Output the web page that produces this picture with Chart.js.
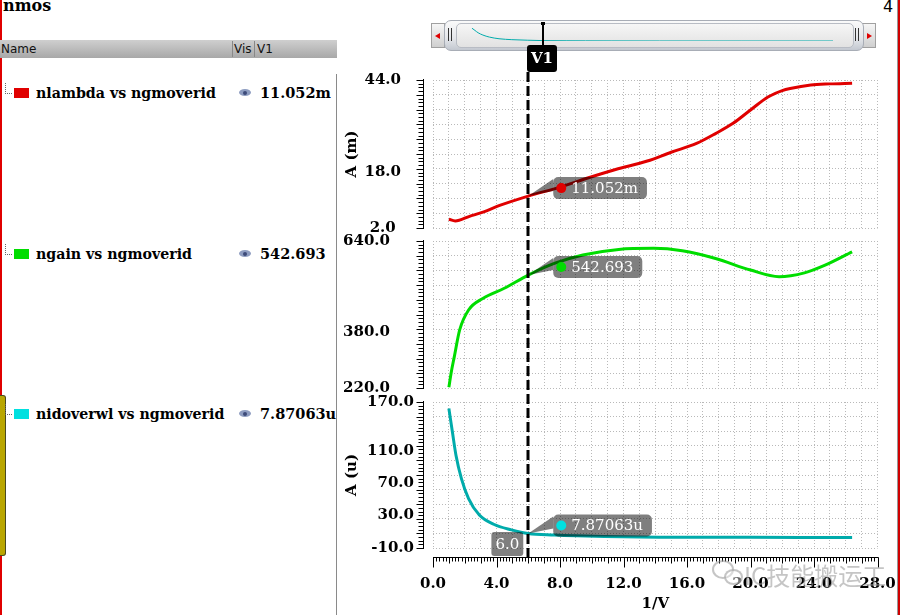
<!DOCTYPE html>
<html>
<head>
<meta charset="utf-8">
<script src="https://cdn.jsdelivr.net/npm/chart.js@4.4.0/dist/chart.umd.min.js"></script>
<style>
  html, body { margin: 0; padding: 0; background: #fff; }
  #page { position: relative; width: 900px; height: 615px; overflow: hidden; font-family: "DejaVu Serif", serif; }
  .abs { position: absolute; }
  canvas.full { position: absolute; left: 0; top: 0; }
  .hdr { left: 0; top: 40px; width: 337px; height: 18px; background: linear-gradient(#cfcfcf, #a8a8a8);
         font: 12px "DejaVu Sans", sans-serif; line-height: 18px; color: #111; }
  .hdr span { position: absolute; top: 0; }
  .hdr i { position: absolute; top: 1px; width: 1px; height: 16px; background: #888; }
  .row { left: 0; width: 336px; height: 20px; }
  .tree { position: absolute; left: 5px; top: 0; width: 6px; height: 10px; border-left: 1px dotted #666; border-bottom: 1px dotted #666; }
  .sw { position: absolute; left: 14px; top: 5px; width: 15px; height: 10px; }
  .nm { position: absolute; left: 36px; top: 0; font-weight: bold; font-size: 14.2px; line-height: 20px; white-space: nowrap; }
  .eye { position: absolute; left: 239px; top: 6px; width: 12px; height: 7px; border-radius: 50%; background: #8d9cc0; }
  .eye b { position: absolute; left: 4px; top: 1.5px; width: 4px; height: 4px; border-radius: 50%; background: #3c4a78; }
  .val { position: absolute; left: 260px; top: 0; font-weight: bold; font-size: 14.5px; line-height: 20px; white-space: nowrap; }
  .btn { top: 23px; width: 12px; height: 23px; background: linear-gradient(#f6f6f6, #cfcfcf); border: 1px solid #a0a0a0; }
  .btn i { position: absolute; top: 9px; width: 0; height: 0; border-top: 3px solid transparent; border-bottom: 3px solid transparent; }
  .bar { left: 444px; top: 20px; width: 418px; height: 29px; border-radius: 7px; border: 1px solid #a8adb6;
         background: linear-gradient(#fafafa, #e4e6ea 60%, #c3c8d0); }
  .trough { left: 456px; top: 23px; width: 396px; height: 23px; border-radius: 5px; border: 1px solid #b8bcc4;
            background: linear-gradient(#f6f6f6, #e2e2e2); }
  .grip { top: 28px; width: 1px; height: 13px; border-left: 1px solid #333; border-right: 1px solid #333; padding-left: 1px; }
</style>
</head>
<body>
<div id="page">
  <div class="abs" style="left:0;top:0;width:2px;height:615px;background:#e00000"></div>
  <div class="abs" style="left:897px;top:0;width:1px;height:615px;background:#999"></div>
  <div class="abs" style="left:898px;top:0;width:2px;height:615px;background:#d00000"></div>
  <div class="abs" style="left:3px;top:-4px;font-weight:bold;font-size:16px;">nmos</div>
  <div class="abs" style="left:883px;top:-3px;font:16px 'DejaVu Sans',sans-serif;">4</div>
  <div class="abs hdr"><span style="left:1px">Name</span><i style="left:232px"></i><span style="left:234px">Vis</span><i style="left:254px"></i><span style="left:257px">V1</span></div>
  <div class="abs" style="left:336px;top:74px;width:1px;height:541px;background:#8a8a8a"></div>
  <div class="abs" style="left:0;top:395px;width:5px;height:159px;background:#b9a600;border:1px solid #4a4a20;border-left:none;border-radius:0 3px 3px 0"></div>
  <div id="legend"></div>

  <div class="abs btn" style="left:431px"><i style="left:3px;border-right:5px solid #e00000"></i></div>
  <div class="abs btn" style="left:862px"><i style="left:4px;border-left:5px solid #e00000"></i></div>
  <div class="abs bar"></div>
  <div class="abs trough"></div>
  <div class="abs grip" style="left:448px"></div>
  <div class="abs grip" style="left:855px"></div>
  <canvas id="thumb" class="abs" width="396" height="25" style="left:456px;top:22px"></canvas>

  <canvas id="cTop" class="full" width="900" height="615"></canvas>
  <canvas id="cMid" class="full" width="900" height="615"></canvas>
  <canvas id="cBot" class="full" width="900" height="615"></canvas>

  <div class="abs" style="left:712px;top:560px;width:18px;height:15px;border:2px solid rgba(150,150,150,0.55);border-radius:50%"></div>
  <div class="abs" style="left:724px;top:569px;width:15px;height:12px;border:2px solid rgba(150,150,150,0.55);border-radius:50%;background:rgba(255,255,255,0.4)"></div>
  <div class="abs" style="left:744px;top:557px;font:24px 'Noto Sans CJK SC',sans-serif;color:rgba(150,150,150,0.55);">IC技能搬运工</div>
</div>
<script>
// cursor
const cursorName = 'V1';
const cursorX = 6.0;

// series names, colours and cursor read-outs
const seriesNames = ['nlambda vs ngmoverid', 'ngain vs ngmoverid', 'nidoverwl vs ngmoverid'];
const swatchColors = ['#e00000', '#00dd00', '#00e0e0'];
const lineColors = ['#e00000', '#00dd00', '#00abab'];
const cursorValues = [11.052, 542.693, 7.87063];
const cursorLabels = ['11.052m', '542.693', '7.87063u'];

// nlambda (m) vs ngmoverid
const lambdaX = [1.0, 1.4, 2.3, 3.2, 4.2, 6.0, 8.0, 9.9, 11.5, 13.5, 15.0, 16.6, 17.8, 18.9, 20.0, 21.1, 22.0, 22.5, 23.8, 25.0, 26.4];
const lambdaY = [4.5, 4.0, 5.3, 6.6, 8.4, 11.05, 13.6, 16.4, 18.6, 21.0, 23.5, 26.0, 28.8, 31.7, 35.5, 39.2, 41.0, 41.6, 42.6, 42.9, 43.1];

// ngain vs ngmoverid
const gainX = [1.0, 1.15, 1.34, 1.68, 2.24, 3.14, 4.49, 6.0, 7.64, 9.44, 11.7, 13.9, 15.7, 17.8, 20.0, 21.8, 23.4, 24.7, 26.4];
const gainY = [222, 265, 309, 386, 443, 476, 505, 542.7, 576, 600, 616, 619, 612, 590, 557, 538, 549, 571, 609];

// nidoverwl (u) vs ngmoverid
const idwX = [1.0, 1.23, 1.45, 1.79, 2.24, 2.92, 3.82, 4.94, 6.0, 7.64, 9.0, 10.8, 14.2, 20.0, 26.4];
const idwY = [162, 132, 104, 75.5, 51, 30.7, 19.3, 12.4, 7.87, 6.0, 5.0, 4.2, 3.3, 3.1, 3.0];

// axes
const xMin = 0, xMax = 28;
const xTickLabels = [0, 4, 8, 12, 16, 20, 24, 28];
const topRange = [2, 44], topTicks = [2, 18, 44];
const midRange = [220, 640], midTicks = [220, 380, 640];
const botRange = [-10, 170], botTicks = [-10, 30, 70, 110, 170];
const yTitles = ['A (m)', '', 'A (u)'];
const xTitle = '1/V';

// legend panel
const rowTops = [83, 244, 404];
const legend = document.getElementById('legend');
seriesNames.forEach((n, i) => {
  const r = document.createElement('div');
  r.className = 'abs row';
  r.style.top = rowTops[i] + 'px';
  r.innerHTML = '<div class="tree"></div><div class="sw" style="background:' + swatchColors[i] + '"></div>' +
    '<div class="nm">' + n + '</div><div class="eye"><b></b></div><div class="val">' + cursorLabels[i] + '</div>';
  legend.appendChild(r);
});

Chart.defaults.font.family = '"DejaVu Serif", serif';
Chart.defaults.color = '#000';

const xGrid = [];
for (let v = xMin; v <= xMax; v++) xGrid.push(v);

function near(v, arr) { return arr.some(a => Math.abs(a - v) < 1e-6); }

function yGridFor(range) {
  const g = [];
  for (let i = 0; i <= 10; i++) g.push(range[0] + (range[1] - range[0]) * i / 10);
  return g;
}

const bold15 = { size: 15, weight: 'bold' };

// ruler marks outside the plot, like the waveform viewer
const rulerPlugin = {
  id: 'ruler',
  afterDraw(chart, args, o) {
    const { ctx, chartArea: a, scales: { x, y } } = chart;
    ctx.save();
    ctx.strokeStyle = '#000';
    ctx.lineWidth = 1;
    ctx.beginPath();
    const rx = Math.round(a.left - 10) + 0.5;
    ctx.moveTo(rx, a.top - 1); ctx.lineTo(rx, a.bottom + 1);
    const ystep = (y.max - y.min) / 40;
    for (let i = 0; i <= 40; i++) {
      const py = Math.round(y.getPixelForValue(y.min + i * ystep)) + 0.5;
      const len = i % 4 === 0 ? 7 : 5;
      ctx.moveTo(rx - len, py); ctx.lineTo(rx, py);
    }
    if (o.xRuler) {
      const ry = Math.round(a.bottom + 9) + 0.5;
      ctx.moveTo(a.left, ry); ctx.lineTo(a.right + 1, ry);
      for (let i = 0; i <= (x.max - x.min) * 5; i++) {
        const v = x.min + i / 5;
        const px = Math.round(x.getPixelForValue(v)) + 0.5;
        const len = i % 20 === 0 ? 10 : (i % 5 === 0 ? 6 : 4);
        ctx.moveTo(px, ry); ctx.lineTo(px, ry + len);
      }
    }
    ctx.stroke();
    ctx.restore();
  }
};

// cursor read-out balloon on each trace
const cursorTipPlugin = {
  id: 'cursorTip',
  afterDatasetsDraw(chart, args, o) {
    const { ctx, chartArea: a, scales: { x, y } } = chart;
    const px = x.getPixelForValue(cursorX), py = y.getPixelForValue(o.value);
    ctx.save();
    ctx.font = '15px "DejaVu Serif"';
    const tw = ctx.measureText(o.label).width;
    const bx = px + 25, by = py - 19, bw = tw + 27, bh = 22;
    ctx.fillStyle = 'rgba(0,0,0,0.5)';
    ctx.beginPath();
    ctx.moveTo(px, py); ctx.lineTo(bx, by + 2); ctx.lineTo(bx, by + 14); ctx.closePath();
    ctx.fill();
    ctx.beginPath(); ctx.roundRect(bx, by, bw, bh, 5); ctx.fill();
    ctx.fillStyle = o.dot;
    ctx.beginPath(); ctx.arc(px + 33, py - 8, 5, 0, Math.PI * 2); ctx.fill();
    ctx.fillStyle = '#fff';
    ctx.textBaseline = 'middle';
    ctx.fillText(o.label, px + 43, py - 7);
    if (o.xLabel) {
      const t = cursorX.toFixed(1);
      const w = ctx.measureText(t).width + 8;
      ctx.fillStyle = 'rgba(0,0,0,0.5)';
      ctx.beginPath(); ctx.roundRect(px - 5 - w, a.bottom - 16, w, 24, 3); ctx.fill();
      ctx.fillStyle = '#fff';
      ctx.fillText(t, px - 1 - w, a.bottom - 3);
    }
    ctx.restore();
  }
};

// dashed vertical cursor with its name tag
const cursorLinePlugin = {
  id: 'cursorLine',
  afterDraw(chart, args, o) {
    if (!o.on) return;
    const { ctx, chartArea: a, scales: { x } } = chart;
    const px = Math.round(x.getPixelForValue(cursorX));
    ctx.save();
    ctx.strokeStyle = '#000';
    ctx.lineWidth = 3;
    ctx.setLineDash([10, 4]);
    ctx.beginPath(); ctx.moveTo(px, 72); ctx.lineTo(px, a.bottom + 9); ctx.stroke();
    ctx.setLineDash([]);
    ctx.fillStyle = '#000';
    ctx.beginPath(); ctx.roundRect(px - 1, 45, 30, 27, 3); ctx.fill();
    ctx.fillStyle = '#fff';
    ctx.font = 'bold 15px "DejaVu Serif"';
    ctx.textAlign = 'center'; ctx.textBaseline = 'middle';
    ctx.fillText(cursorName, px + 14, 59);
    ctx.restore();
  }
};

function gridColor(vals) {
  return c => (c.tick && near(c.tick.value, vals)) ? '#b9b9b9' : 'rgba(0,0,0,0)';
}

function makePanel(id, p) {
  const yGrid = yGridFor(p.range);
  const yAll = yGrid.concat(p.ticks.filter(v => !near(v, yGrid))).sort((a, b) => a - b);
  return new Chart(document.getElementById(id), {
    type: 'line',
    data: {
      datasets: [{
        data: p.xs.map((v, i) => ({ x: v, y: p.ys[i] })),
        borderColor: p.color,
        borderWidth: 3,
        pointRadius: 0,
        cubicInterpolationMode: 'monotone',
        fill: false
      }]
    },
    options: {
      responsive: false,
      animation: false,
      events: [],
      layout: { padding: p.padding },
      plugins: {
        legend: { display: false },
        tooltip: { enabled: false },
        ruler: { xRuler: p.bottom },
        cursorTip: { value: p.cursorValue, label: p.cursorLabel, dot: p.dot, xLabel: p.bottom },
        cursorLine: { on: p.bottom }
      },
      scales: {
        x: {
          type: 'linear', min: xMin, max: xMax,
          afterBuildTicks: s => { s.ticks = xGrid.map(v => ({ value: v })); },
          afterFit: s => { s.height = p.bottom ? 67 : 0; s.paddingLeft = 0; s.paddingRight = 0; },
          grid: { color: gridColor(xGrid), drawTicks: false },
          border: { display: false, dash: [1, 2] },
          ticks: {
            display: p.bottom, autoSkip: false, maxRotation: 0, padding: 27, font: bold15,
            callback: v => near(v, xTickLabels) ? v.toFixed(1) : ''
          },
          title: { display: p.bottom, text: xTitle, font: bold15, padding: { top: 0, bottom: 2 } }
        },
        y: {
          type: 'linear', min: p.range[0], max: p.range[1],
          afterBuildTicks: s => { s.ticks = yAll.map(v => ({ value: v })); },
          afterFit: s => { s.width = 90; },
          grid: { color: gridColor(yGrid), drawTicks: false },
          border: { display: false, dash: [1, 2] },
          ticks: {
            autoSkip: false, padding: p.tickPad, crossAlign: p.cross, font: bold15,
            callback: v => near(v, p.ticks) ? v.toFixed(1) : ''
          },
          title: { display: !!p.title, text: p.title, font: bold15, padding: 0 }
        }
      }
    },
    plugins: [rulerPlugin, cursorTipPlugin, cursorLinePlugin]
  });
}

makePanel('cTop', {
  xs: lambdaX, ys: lambdaY, color: lineColors[0], dot: swatchColors[0],
  range: topRange, ticks: topTicks, title: yTitles[0], tickPad: 32, cross: 'center',
  cursorValue: cursorValues[0], cursorLabel: cursorLabels[0], bottom: false,
  padding: { left: 343, right: 22.5, top: 80, bottom: 387 }
});
makePanel('cMid', {
  xs: gainX, ys: gainY, color: lineColors[1], dot: swatchColors[1],
  range: midRange, ticks: midTicks, title: yTitles[1], tickPad: 43, cross: 'near',
  cursorValue: cursorValues[1], cursorLabel: cursorLabels[1], bottom: false,
  padding: { left: 343, right: 22.5, top: 241, bottom: 227 }
});
makePanel('cBot', {
  xs: idwX, ys: idwY, color: lineColors[2], dot: swatchColors[2],
  range: botRange, ticks: botTicks, title: yTitles[2], tickPad: 19, cross: 'near',
  cursorValue: cursorValues[2], cursorLabel: cursorLabels[2], bottom: true,
  padding: { left: 343, right: 22.5, top: 402, bottom: 0 }
});

// overview strip in the scroll bar
new Chart(document.getElementById('thumb'), {
  type: 'line',
  data: {
    datasets: [{
      data: idwX.map((v, i) => ({ x: v, y: idwY[i] })),
      borderColor: lineColors[2], borderWidth: 1, pointRadius: 0, cubicInterpolationMode: 'monotone'
    }]
  },
  options: {
    responsive: false, animation: false, events: [],
    layout: { padding: { left: 15.7, right: 19, top: 6, bottom: 6 } },
    plugins: { legend: { display: false }, tooltip: { enabled: false } },
    scales: {
      x: { type: 'linear', display: false, min: idwX[0], max: idwX[idwX.length - 1] },
      y: { display: false, min: Math.min(...idwY), max: Math.max(...idwY) }
    }
  },
  plugins: [{
    id: 'thumbCursor',
    afterDraw(chart) {
      const { ctx, scales: { x } } = chart;
      const px = Math.round(x.getPixelForValue(cursorX));
      ctx.save();
      ctx.fillStyle = '#000';
      ctx.fillRect(px - 1, 0, 2, 25);
      ctx.fillRect(px - 2, 0, 4, 3);
      ctx.restore();
    }
  }]
});
</script>
</body>
</html>
